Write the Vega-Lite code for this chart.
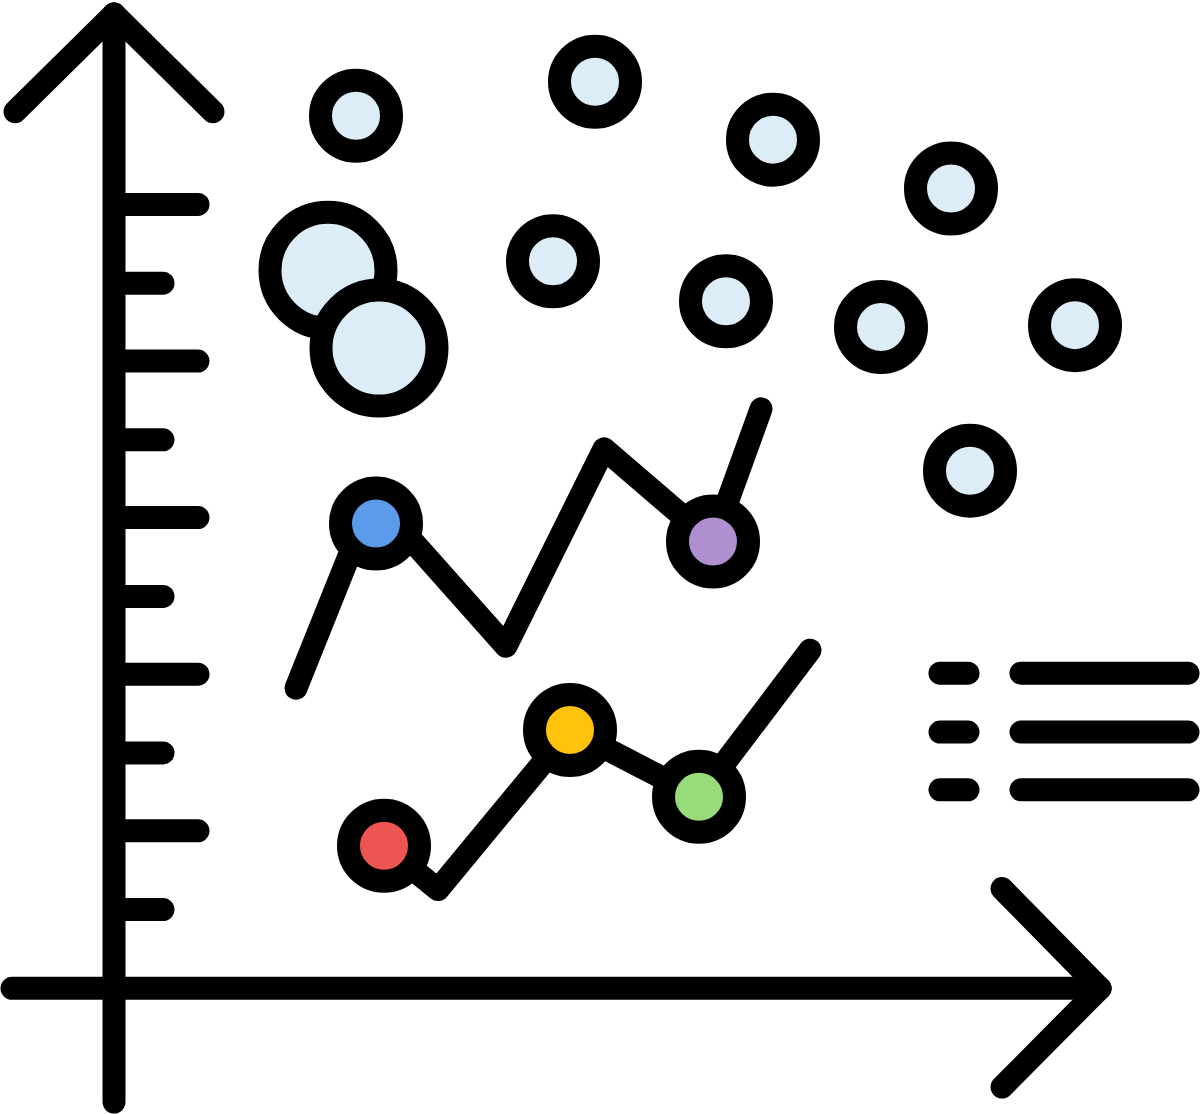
{
  "$schema": "https://vega.github.io/schema/vega-lite/v6.json",
  "width": 1200,
  "height": 1114,
  "autosize": {"type": "fit", "contains": "padding"},
  "padding": 0,
  "background": "white",
  "config": {"view": {"stroke": null}},
  "datasets": {
    "segs": [
      {"x": 114, "y": 12, "x2": 114, "y2": 1103},
      {"x": 15, "y": 110, "x2": 114, "y2": 12},
      {"x": 114, "y": 12, "x2": 213, "y2": 110},
      {"x": 12, "y": 989, "x2": 1100, "y2": 989},
      {"x": 1002, "y": 889, "x2": 1100, "y2": 989},
      {"x": 1100, "y": 989, "x2": 1002, "y2": 1088},
      {"x": 126, "y": 203, "x2": 198, "y2": 203},
      {"x": 126, "y": 282, "x2": 163, "y2": 282},
      {"x": 126, "y": 360, "x2": 198, "y2": 360},
      {"x": 126, "y": 439, "x2": 163, "y2": 439},
      {"x": 126, "y": 517, "x2": 198, "y2": 517},
      {"x": 126, "y": 596, "x2": 163, "y2": 596},
      {"x": 126, "y": 674, "x2": 198, "y2": 674},
      {"x": 126, "y": 753, "x2": 163, "y2": 753},
      {"x": 126, "y": 831, "x2": 198, "y2": 831},
      {"x": 126, "y": 910, "x2": 163, "y2": 910},
      {"x": 940, "y": 673, "x2": 968, "y2": 673},
      {"x": 1021, "y": 673, "x2": 1188, "y2": 673},
      {"x": 940, "y": 732, "x2": 968, "y2": 732},
      {"x": 1021, "y": 732, "x2": 1188, "y2": 732},
      {"x": 940, "y": 790, "x2": 968, "y2": 790},
      {"x": 1021, "y": 790, "x2": 1188, "y2": 790}
    ],
    "lines": [
      {"g": "p1", "o": 1, "x": 296, "y": 688},
      {"g": "p1", "o": 2, "x": 352, "y": 548},
      {"g": "p2", "o": 1, "x": 412, "y": 540},
      {"g": "p2", "o": 2, "x": 506, "y": 646},
      {"g": "p2", "o": 3, "x": 604, "y": 448},
      {"g": "p2", "o": 4, "x": 690, "y": 522},
      {"g": "p3", "o": 1, "x": 713, "y": 541},
      {"g": "p3", "o": 2, "x": 761, "y": 408},
      {"g": "q1", "o": 1, "x": 384, "y": 846},
      {"g": "q1", "o": 2, "x": 438, "y": 890},
      {"g": "q1", "o": 3, "x": 570, "y": 730},
      {"g": "q2", "o": 1, "x": 570, "y": 730},
      {"g": "q2", "o": 2, "x": 699, "y": 797},
      {"g": "q3", "o": 1, "x": 699, "y": 797},
      {"g": "q3", "o": 2, "x": 810, "y": 650}
    ],
    "dots": [
      {"x": 356, "y": 114, "s": 5041, "c": "#DCEDF8"},
      {"x": 595, "y": 80, "s": 5041, "c": "#DCEDF8"},
      {"x": 773, "y": 138, "s": 5041, "c": "#DCEDF8"},
      {"x": 951, "y": 187, "s": 5041, "c": "#DCEDF8"},
      {"x": 553, "y": 260, "s": 5041, "c": "#DCEDF8"},
      {"x": 726, "y": 300, "s": 5041, "c": "#DCEDF8"},
      {"x": 881, "y": 326, "s": 5041, "c": "#DCEDF8"},
      {"x": 1075, "y": 324, "s": 5041, "c": "#DCEDF8"},
      {"x": 970, "y": 470, "s": 5041, "c": "#DCEDF8"},
      {"x": 328, "y": 269, "s": 13456, "c": "#DCEDF8"},
      {"x": 379, "y": 347, "s": 13456, "c": "#DCEDF8"},
      {"x": 376, "y": 523, "s": 5041, "c": "#5B9BEA"},
      {"x": 713, "y": 541, "s": 5041, "c": "#AE8FD0"},
      {"x": 570, "y": 730, "s": 5041, "c": "#FFC20D"},
      {"x": 384, "y": 846, "s": 5041, "c": "#EE5552"},
      {"x": 699, "y": 797, "s": 5041, "c": "#97DB7B"}
    ]
  },
  "encoding": {
    "x": {"field": "x", "type": "quantitative", "scale": {"domain": [0, 1200], "nice": false, "zero": false}, "axis": null},
    "y": {"field": "y", "type": "quantitative", "scale": {"domain": [0, 1114], "nice": false, "zero": false, "reverse": true}, "axis": null}
  },
  "layer": [
    {
      "data": {"name": "segs"},
      "mark": {"type": "rule", "strokeWidth": 23, "strokeCap": "round", "color": "black"},
      "encoding": {"x2": {"field": "x2"}, "y2": {"field": "y2"}}
    },
    {
      "data": {"name": "lines"},
      "mark": {"type": "line", "strokeWidth": 23, "strokeCap": "round", "strokeJoin": "round", "color": "black"},
      "encoding": {"detail": {"field": "g"}, "order": {"field": "o", "type": "quantitative"}}
    },
    {
      "data": {"name": "dots"},
      "mark": {"type": "point", "shape": "circle", "filled": true, "opacity": 1, "stroke": "black", "strokeWidth": 23},
      "encoding": {
        "size": {"field": "s", "type": "quantitative", "scale": null, "legend": null},
        "color": {"field": "c", "type": "nominal", "scale": null, "legend": null}
      }
    }
  ]
}
